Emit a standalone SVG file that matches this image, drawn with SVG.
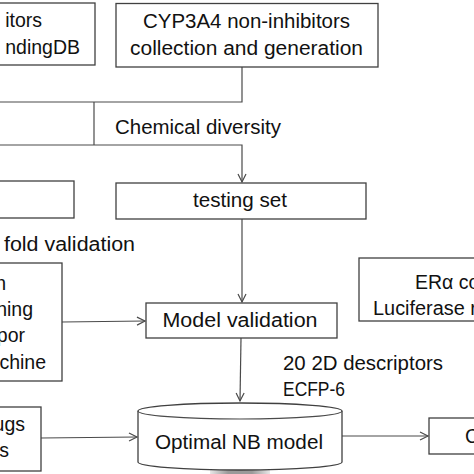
<svg xmlns="http://www.w3.org/2000/svg" width="474" height="474" viewBox="0 0 474 474">
<style>
.box{fill:#fff;stroke:#404040;stroke-width:1.3}
.ln{fill:none;stroke:#4a4a4a;stroke-width:1.2}
text{font-family:"Liberation Sans","Noto Sans",sans-serif;font-size:19.5px;fill:#111}
.c{text-anchor:middle}
.e{text-anchor:end}
</style>
<defs>
<marker id="ah" markerUnits="userSpaceOnUse" markerWidth="12" markerHeight="12" refX="9" refY="5" orient="auto">
<path d="M1,1 L9,5 L1,9" fill="none" stroke="#4a4a4a" stroke-width="1.2"/>
</marker>
<linearGradient id="gg" x1="0" x2="1" y1="0" y2="0">
<stop offset="0" stop-color="#e8e8e8"/>
<stop offset="0.3" stop-color="#9a9a9a"/>
<stop offset="0.7" stop-color="#9a9a9a"/>
<stop offset="1" stop-color="#e8e8e8"/>
</linearGradient>
</defs>
<rect width="474" height="474" fill="#fff"/>

<g id="connectors">
<path class="ln" d="M242,67 V102 H-2"/>
<path class="ln" d="M94,102 V145"/>
<path class="ln" d="M-2,145 H242 V182" marker-end="url(#ah)"/>
<path class="ln" d="M242,219 V302" marker-end="url(#ah)"/>
<path class="ln" d="M62,322 L145,321" marker-end="url(#ah)"/>
<path class="ln" d="M241,338 L240,401" marker-end="url(#ah)"/>
<path class="ln" d="M41,438 L137,437" marker-end="url(#ah)"/>
<path class="ln" d="M342,436 L428,436" marker-end="url(#ah)"/>
</g>

<text x="115" y="134" textLength="166" lengthAdjust="spacingAndGlyphs">Chemical diversity</text>
<text x="4" y="251" textLength="131" lengthAdjust="spacingAndGlyphs">fold validation</text>
<text x="283" y="370" textLength="160" lengthAdjust="spacingAndGlyphs">20 2D descriptors</text>
<text x="283" y="396" textLength="62" lengthAdjust="spacingAndGlyphs">ECFP-6</text>

<g id="node-inhibitors">
<rect class="box" x="-10" y="3" width="105" height="62"/>
<text class="e" x="42" y="27">itors</text>
<text class="e" x="80" y="54">ndingDB</text>
</g>

<g id="node-noninhibitors">
<rect class="box" x="116" y="3.5" width="262" height="63.5"/>
<text class="c" x="246.5" y="28" textLength="207" lengthAdjust="spacingAndGlyphs">CYP3A4 non-inhibitors</text>
<text class="c" x="246.5" y="55" textLength="233" lengthAdjust="spacingAndGlyphs">collection and generation</text>
</g>

<g id="node-training">
<rect class="box" x="-10" y="181" width="84" height="37"/>
</g>

<g id="node-testing">
<rect class="box" x="116" y="183" width="250" height="36"/>
<text class="c" x="240" y="207" textLength="94" lengthAdjust="spacingAndGlyphs">testing set</text>
</g>

<g id="node-methods">
<rect class="box" x="-10" y="263" width="72" height="118"/>
<text class="e" x="6" y="290">n</text>
<text class="e" x="33" y="316">hning</text>
<text class="e" x="25" y="342">por</text>
<text class="e" x="46" y="369">chine</text>
</g>

<g id="node-validation">
<rect class="box" x="146" y="303" width="191" height="35"/>
<text class="c" x="240" y="327" textLength="155" lengthAdjust="spacingAndGlyphs">Model validation</text>
</g>

<g id="node-era">
<rect class="box" x="359" y="258" width="130" height="63"/>
<text x="415" y="289">ERα co</text>
<text x="373" y="315" textLength="104" lengthAdjust="spacingAndGlyphs">Luciferase r</text>
</g>

<g id="node-drugs">
<rect class="box" x="-10" y="407" width="51" height="64"/>
<text class="e" x="25" y="431">ugs</text>
<text class="e" x="9" y="457">s</text>
</g>

<g id="node-nb">
<rect x="210" y="469" width="60" height="6" fill="url(#gg)"/>
<path class="box" d="M138,411 V462 A102,8 0 0 0 342,462 V411 A102,8 0 0 0 138,411 Z"/>
<path class="ln" d="M138,411 A102,8 0 0 0 342,411"/>
<text class="c" x="239" y="449" textLength="168" lengthAdjust="spacingAndGlyphs">Optimal NB model</text>
</g>

<g id="node-output">
<rect class="box" x="429" y="418" width="60" height="36"/>
<text x="465" y="443">C</text>
</g>
</svg>
